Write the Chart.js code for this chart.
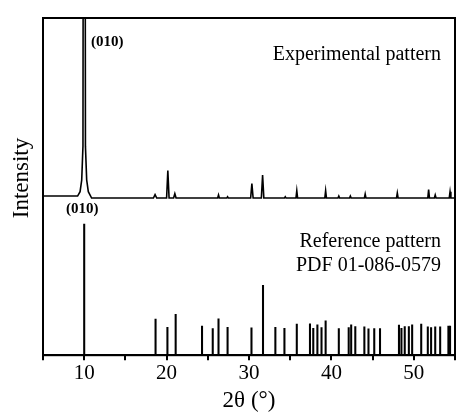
<!DOCTYPE html>
<html><head><meta charset="utf-8">
<script src="https://cdn.jsdelivr.net/npm/chart.js@4"></script>
<style>html,body{margin:0;padding:0;background:#fff}#w{width:474px;height:417px}</style>
</head><body><div id="w"><canvas id="c"></canvas></div>
<script>
const expX = [5,9.2,9.5,9.7,9.85,10.0,10.15,10.3,10.5,10.9,18.4,18.6,18.8,20.0,20.15,20.3,20.85,21.0,21.15,26.2,26.3,26.4,27.3,27.4,27.5,30.2,30.35,30.5,31.5,31.65,31.8,34.3,34.4,34.5,35.7,35.8,35.9,39.2,39.3,39.4,40.8,40.9,41.0,42.2,42.3,42.4,44.0,44.1,44.2,47.9,48.0,48.1,51.7,51.8,51.9,52.5,52.6,52.7,54.3,54.4,54.5,55];
const expY = [47.2,47.2,48.5,52,62,400,62,52,48.5,46.6,46.6,47.6,46.6,46.6,54.8,46.6,46.6,47.9,46.6,46.6,47.5,46.6,46.6,47,46.6,46.6,50.9,46.6,46.6,53.4,46.6,46.6,47,46.6,46.6,48.8,46.6,46.6,48.8,46.6,46.6,47.2,46.6,46.6,47.2,46.6,46.6,47.8,46.6,46.6,48.1,46.6,46.6,49.1,46.6,46.6,47.5,46.6,46.6,48.5,46.6,46.6];
const refX = [10.0,18.66,20.1,21.1,24.3,25.6,26.3,27.4,30.3,31.7,33.2,34.3,35.8,37.4,37.8,38.3,38.8,39.3,40.9,42.1,42.4,42.9,44.0,44.5,45.2,45.9,48.2,48.5,48.9,49.4,49.8,50.9,51.7,52.1,52.6,53.2,54.2,54.4];
const refY = [38.9,10.7,8.3,12.1,8.6,7.9,10.8,8.3,8.1,20.7,8.3,8.0,9.2,9.3,8.0,9.0,8.2,10.2,7.9,8.2,9.0,8.5,8.4,7.8,7.9,7.9,8.9,8.0,8.5,8.5,9.0,9.2,8.4,8.2,8.4,8.4,8.6,8.6];
const xTicks = [10,20,30,40,50];

const F = '"Liberation Serif", "DejaVu Serif", serif';
const deco = {
  id:'deco',
  afterDraw(ch){
    const c=ch.ctx, a=ch.chartArea;
    c.save();
    c.strokeStyle='#000'; c.lineWidth=2;
    c.strokeRect(a.left,a.top,a.right-a.left,a.bottom-a.top);
    c.fillStyle='#000'; c.textBaseline='middle';
    c.font='bold 15px '+F; c.textAlign='left';
    c.fillText('(010)',91,42);
    c.fillText('(010)',66,209);
    c.font='20px '+F; c.textAlign='right';
    c.fillText('Experimental pattern',441,55);
    c.fillText('Reference pattern',441,242);
    c.fillText('PDF 01-086-0579',441,266);
    c.translate(22,178); c.rotate(-Math.PI/2); c.textAlign='center';
    c.font='23px '+F;
    c.fillText('Intensity',0,0);
    c.restore();
  }
};
new Chart(document.getElementById('c'),{
  data:{datasets:[
    {type:'line',data:expX.map((x,i)=>({x,y:expY[i]})),borderColor:'#000',borderWidth:1.6,pointRadius:0,tension:0},
    {type:'bar',data:refX.map((x,i)=>({x,y:refY[i]})),backgroundColor:'#000',barThickness:1.4}
  ]},
  options:{
    responsive:true,maintainAspectRatio:false,animation:false,
    layout:{padding:{left:43,right:19,top:18,bottom:0}},
    plugins:{legend:{display:false},tooltip:{enabled:false}},
    scales:{
      x:{type:'linear',min:5,max:55,offset:false,
        afterBuildTicks(s){s.ticks=[5,10,15,20,25,30,35,40,45,50,55].map(v=>({value:v}));},
        ticks:{autoSkip:false,maxRotation:0,color:'#000',font:{family:F,size:21},padding:1,
          callback:v=>xTicks.includes(v)?String(v):''},
        grid:{drawOnChartArea:false,tickLength:5,color:'#000',lineWidth:2,offset:false},
        border:{color:'#000',width:2},
        title:{display:true,text:'2θ (°)',color:'#000',font:{family:F,size:23},padding:{top:0,bottom:2}}},
      y:{display:false,min:0,max:100}
    }
  },
  plugins:[deco]
});
</script></body></html>
